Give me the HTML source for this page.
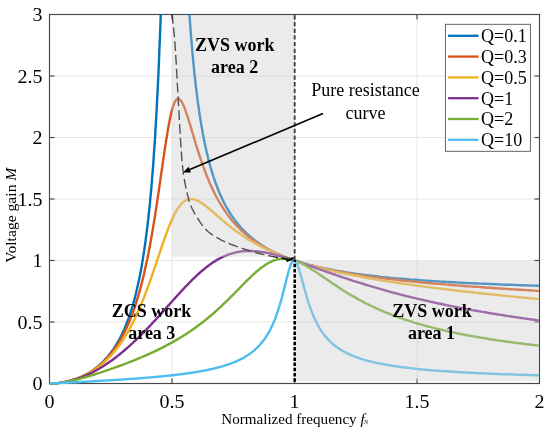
<!DOCTYPE html>
<html><head><meta charset="utf-8"><title>LLC gain curves</title>
<style>
html,body{margin:0;padding:0;background:#fff;}
body{width:550px;height:435px;overflow:hidden;}
svg{display:block;font-family:"Liberation Serif","Times New Roman",serif;fill:#000;}
.tk text{font-size:18.7px;}
.lg{font-size:18px;}
.b{font-weight:bold;font-size:18px;}
.n{font-size:18px;}
.al{font-size:15.1px;}
.cv path{fill:none;stroke-width:2.4;stroke-linejoin:round;}
</style></head><body>
<svg width="550" height="435" viewBox="0 0 550 435">
<rect x="0" y="0" width="550" height="435" fill="#fff"/>
<defs><clipPath id="cp"><rect x="49.5" y="14.5" width="490.0" height="370.3"/></clipPath></defs>
<g stroke="#e6e6e6" stroke-width="1" fill="none">
<line x1="172.0" y1="14.5" x2="172.0" y2="383.5"/>
<line x1="294.5" y1="14.5" x2="294.5" y2="383.5"/>
<line x1="417.0" y1="14.5" x2="417.0" y2="383.5"/>
<line x1="49.5" y1="322.0" x2="539.5" y2="322.0"/>
<line x1="49.5" y1="260.5" x2="539.5" y2="260.5"/>
<line x1="49.5" y1="199.0" x2="539.5" y2="199.0"/>
<line x1="49.5" y1="137.5" x2="539.5" y2="137.5"/>
<line x1="49.5" y1="76.0" x2="539.5" y2="76.0"/>
</g>
<g stroke="#484848" stroke-width="1.15" fill="none">
<rect x="49.5" y="14.5" width="490.0" height="369.0"/>
<line x1="172.0" y1="383.5" x2="172.0" y2="378.5"/>
<line x1="172.0" y1="14.5" x2="172.0" y2="19.5"/>
<line x1="294.5" y1="383.5" x2="294.5" y2="378.5"/>
<line x1="294.5" y1="14.5" x2="294.5" y2="19.5"/>
<line x1="417.0" y1="383.5" x2="417.0" y2="378.5"/>
<line x1="417.0" y1="14.5" x2="417.0" y2="19.5"/>
<line x1="49.5" y1="322.0" x2="54.5" y2="322.0"/>
<line x1="539.5" y1="322.0" x2="534.5" y2="322.0"/>
<line x1="49.5" y1="260.5" x2="54.5" y2="260.5"/>
<line x1="539.5" y1="260.5" x2="534.5" y2="260.5"/>
<line x1="49.5" y1="199.0" x2="54.5" y2="199.0"/>
<line x1="539.5" y1="199.0" x2="534.5" y2="199.0"/>
<line x1="49.5" y1="137.5" x2="54.5" y2="137.5"/>
<line x1="539.5" y1="137.5" x2="534.5" y2="137.5"/>
<line x1="49.5" y1="76.0" x2="54.5" y2="76.0"/>
<line x1="539.5" y1="76.0" x2="534.5" y2="76.0"/>
</g>
<g clip-path="url(#cp)">
<g class="cv">
<path d="M49.6,383.5 L51.3,383.5 L52.9,383.4 L54.6,383.3 L56.3,383.2 L57.9,383.1 L59.6,382.9 L61.2,382.6 L62.9,382.4 L64.6,382.1 L66.2,381.8 L67.9,381.4 L69.5,381 L71.2,380.5 L72.8,380 L74.5,379.5 L76.2,378.9 L77.8,378.3 L79.5,377.6 L81.1,376.9 L82.8,376.1 L84.5,375.3 L86.1,374.5 L87.8,373.5 L89.4,372.5 L91.1,371.5 L92.8,370.4 L94.4,369.2 L96.1,367.9 L97.7,366.6 L99.4,365.2 L101,363.7 L102.7,362.1 L104.4,360.4 L106,358.6 L107.7,356.7 L109.3,354.7 L111,352.5 L112.7,350.3 L114.3,347.8 L116,345.2 L117.6,342.4 L119.3,339.5 L121,336.3 L122.6,332.9 L124.3,329.2 L125.9,325.2 L127.6,321 L129.3,316.4 L130.9,311.4 L132.6,306 L134.2,300.2 L135.9,293.7 L137.5,286.7 L139.2,279 L140.9,270.5 L142.5,261.1 L144.2,250.5 L145.8,238.8 L147.5,225.6 L147.8,223.1 L148.1,220.7 L148.4,218.1 L148.6,215.5 L148.9,212.9 L149.2,210.2 L149.5,207.4 L149.8,204.6 L150.1,201.7 L150.3,198.7 L150.6,195.7 L150.9,192.6 L151.2,189.4 L151.5,186.2 L151.8,182.8 L152,179.4 L152.3,175.9 L152.6,172.3 L152.9,168.7 L153.2,164.9 L153.5,161 L153.7,157.1 L154,153 L154.3,148.8 L154.6,144.5 L154.9,140.1 L155.2,135.6 L155.4,130.9 L155.7,126.1 L156,121.2 L156.3,116.2 L156.6,111 L156.9,105.6 L157.1,100.1 L157.4,94.5 L157.7,88.6 L158,82.6 L158.3,76.4 L158.6,70.1 L158.9,63.5 L159.1,56.7 L159.4,49.8 L159.7,42.6 L160,35.1 L160.3,27.5 L160.6,19.6 L160.8,11.5 L161.1,3.1 L161.4,-5.6 L161.7,-14.5 L162,-23.7 L162.3,-33.2 M186.9,-26.2 L187.2,-21.1 L187.5,-16.2 L187.8,-11.3 L188.1,-6.6 L188.4,-2 L188.6,2.5 L188.9,6.8 L189.2,11.1 L189.5,15.2 L189.8,19.3 L190.1,23.2 L190.4,27 L190.6,30.8 L190.9,34.4 L191.2,38 L191.5,41.5 L191.8,44.9 L192.1,48.2 L192.3,51.4 L192.6,54.6 L192.9,57.7 L193.2,60.7 L193.5,63.6 L193.8,66.5 L194,69.4 L194.3,72.1 L194.6,74.8 L194.9,77.5 L195.2,80.1 L195.5,82.6 L195.7,85.1 L196,87.5 L196.3,89.9 L196.6,92.2 L196.9,94.5 L197.2,96.7 L197.4,98.9 L197.7,101.1 L198,103.2 L198.3,105.2 L198.6,107.3 L198.9,109.3 L199.1,111.2 L199.4,113.1 L199.7,115 L200,116.8 L200.3,118.6 L200.6,120.4 L200.9,122.2 L201.1,123.9 L201.4,125.6 L201.7,127.2 L202,128.8 L202.3,130.4 L202.6,132 L202.8,133.5 L203.1,135 L203.4,136.5 L203.7,138 L204,139.4 L204.3,140.9 L204.5,142.2 L204.8,143.6 L205.1,145 L205.4,146.3 L205.7,147.6 L206,148.9 L206.2,150.1 L206.5,151.4 L206.8,152.6 L207.1,153.8 L207.4,155 L207.7,156.2 L207.9,157.3 L208.2,158.5 L208.5,159.6 L208.8,160.7 L209.1,161.8 L209.4,162.8 L209.6,163.9 L209.9,164.9 L210.2,166 L210.5,167 L210.8,168 L211.1,168.9 L211.4,169.9 L211.6,170.9 L211.9,171.8 L212.2,172.7 L212.5,173.7 L212.8,174.6 L213.1,175.5 L213.3,176.3 L213.6,177.2 L213.9,178.1 L214.2,178.9 L214.5,179.7 L214.8,180.6 L215,181.4 L215.3,182.2 L215.6,183 L215.9,183.8 L216.2,184.5 L216.5,185.3 L216.7,186 L217,186.8 L217.3,187.5 L217.6,188.2 L217.9,189 L218.2,189.7 L218.4,190.4 L218.7,191.1 L219,191.8 L219.3,192.4 L219.6,193.1 L219.9,193.8 L220.1,194.4 L220.4,195.1 L220.7,195.7 L221,196.3 L222.1,198.6 L223.2,200.9 L224.2,203 L225.3,205.1 L226.4,207.1 L227.5,209 L228.6,210.8 L229.6,212.5 L230.7,214.2 L231.8,215.9 L232.9,217.4 L234,218.9 L235,220.4 L236.1,221.8 L237.2,223.2 L238.3,224.5 L239.4,225.8 L240.4,227 L241.5,228.2 L242.6,229.4 L243.7,230.5 L244.8,231.6 L245.8,232.7 L246.9,233.7 L248,234.7 L249.1,235.7 L250.2,236.6 L251.2,237.5 L252.3,238.4 L253.4,239.3 L254.5,240.1 L255.5,240.9 L256.6,241.7 L257.7,242.5 L258.8,243.3 L259.9,244 L260.9,244.7 L262,245.4 L263.1,246.1 L264.2,246.8 L265.3,247.4 L266.3,248.1 L267.4,248.7 L268.5,249.3 L269.6,249.9 L270.7,250.5 L271.7,251 L272.8,251.6 L273.9,252.1 L275,252.6 L276.1,253.2 L277.1,253.7 L278.2,254.2 L279.3,254.6 L280.4,255.1 L281.5,255.6 L282.5,256 L283.6,256.5 L284.7,256.9 L285,257 L285.3,257.2 L285.6,257.3 L285.9,257.4 L286.3,257.5 L286.6,257.6 L286.9,257.8 L287.2,257.9 L287.5,258 L287.8,258.1 L288.1,258.2 L288.4,258.4 L288.7,258.5 L289,258.6 L289.4,258.7 L289.7,258.8 L290,258.9 L290.3,259 L290.6,259.1 L290.9,259.3 L291.2,259.4 L291.5,259.5 L291.8,259.6 L292.1,259.7 L292.5,259.8 L292.8,259.9 L293.1,260 L293.4,260.1 L293.7,260.2 L294,260.3 L294.3,260.4 L294.6,260.5 L294.9,260.6 L295.2,260.7 L295.6,260.8 L295.9,261 L296.2,261.1 L296.5,261.2 L296.8,261.3 L297.1,261.4 L297.4,261.5 L297.7,261.5 L298,261.6 L298.3,261.7 L298.7,261.8 L299,261.9 L299.3,262 L299.6,262.1 L299.9,262.2 L300.2,262.3 L300.5,262.4 L300.8,262.5 L301.1,262.6 L301.4,262.7 L301.8,262.8 L302.1,262.9 L302.4,263 L302.7,263.1 L303,263.1 L303.3,263.2 L303.6,263.3 L303.9,263.4 L304.2,263.5 L304.5,263.6 L304.9,263.7 L305.2,263.8 L305.5,263.9 L305.8,263.9 L306.1,264 L306.4,264.1 L306.7,264.2 L307,264.3 L307.3,264.4 L307.6,264.4 L308,264.5 L308.3,264.6 L308.6,264.7 L308.9,264.8 L309.2,264.9 L311.8,265.5 L314.4,266.2 L317,266.8 L319.6,267.4 L322.1,267.9 L324.7,268.5 L327.3,269 L329.9,269.5 L332.5,270 L335.1,270.5 L337.7,271 L340.3,271.4 L342.8,271.8 L345.4,272.2 L348,272.6 L350.6,273 L353.2,273.4 L355.8,273.8 L358.4,274.1 L361,274.5 L363.5,274.8 L366.1,275.1 L368.7,275.4 L371.3,275.7 L373.9,276 L376.5,276.3 L379.1,276.6 L381.7,276.9 L384.2,277.1 L386.8,277.4 L389.4,277.7 L392,277.9 L394.6,278.1 L397.2,278.4 L399.8,278.6 L402.4,278.8 L404.9,279 L407.5,279.2 L410.1,279.5 L412.7,279.7 L415.3,279.8 L417.9,280 L420.5,280.2 L423.1,280.4 L425.6,280.6 L428.2,280.8 L430.8,280.9 L433.4,281.1 L436,281.3 L438.6,281.4 L441.2,281.6 L443.8,281.7 L446.3,281.9 L448.9,282 L451.5,282.2 L454.1,282.3 L456.7,282.5 L459.3,282.6 L461.9,282.7 L464.5,282.9 L467,283 L469.6,283.1 L472.2,283.2 L474.8,283.4 L477.4,283.5 L480,283.6 L482.6,283.7 L485.2,283.8 L487.7,283.9 L490.3,284 L492.9,284.1 L495.5,284.2 L498.1,284.4 L500.7,284.5 L503.3,284.6 L505.9,284.7 L508.4,284.7 L511,284.8 L513.6,284.9 L516.2,285 L518.8,285.1 L521.4,285.2 L524,285.3 L526.6,285.4 L529.1,285.5 L531.7,285.6 L534.3,285.6 L536.9,285.7 L539.5,285.8" stroke="#0072BD"/>
<path d="M49.6,383.5 L51.3,383.5 L52.9,383.4 L54.6,383.3 L56.3,383.2 L57.9,383.1 L59.6,382.9 L61.2,382.6 L62.9,382.4 L64.6,382.1 L66.2,381.8 L67.9,381.4 L69.5,381 L71.2,380.5 L72.8,380 L74.5,379.5 L76.2,378.9 L77.8,378.3 L79.5,377.7 L81.1,377 L82.8,376.2 L84.5,375.4 L86.1,374.5 L87.8,373.6 L89.4,372.7 L91.1,371.6 L92.8,370.6 L94.4,369.4 L96.1,368.2 L97.7,366.9 L99.4,365.5 L101,364.1 L102.7,362.6 L104.4,361 L106,359.3 L107.7,357.5 L109.3,355.6 L111,353.6 L112.7,351.5 L114.3,349.2 L116,346.8 L117.6,344.3 L119.3,341.6 L121,338.8 L122.6,335.8 L124.3,332.6 L125.9,329.2 L127.6,325.6 L129.3,321.7 L130.9,317.6 L132.6,313.3 L134.2,308.6 L135.9,303.6 L137.5,298.3 L139.2,292.7 L140.9,286.6 L142.5,280.1 L144.2,273.2 L145.8,265.8 L147.5,257.9 L147.8,256.5 L148.1,255.1 L148.4,253.7 L148.6,252.2 L148.9,250.8 L149.2,249.3 L149.5,247.8 L149.8,246.3 L150.1,244.8 L150.3,243.2 L150.6,241.7 L150.9,240.1 L151.2,238.5 L151.5,236.9 L151.8,235.3 L152,233.7 L152.3,232 L152.6,230.4 L152.9,228.7 L153.2,227 L153.5,225.3 L153.7,223.6 L154,221.8 L154.3,220.1 L154.6,218.3 L154.9,216.5 L155.2,214.7 L155.4,212.9 L155.7,211.1 L156,209.3 L156.3,207.4 L156.6,205.6 L156.9,203.7 L157.1,201.8 L157.4,199.9 L157.7,198 L158,196.1 L158.3,194.2 L158.6,192.2 L158.9,190.3 L159.1,188.3 L159.4,186.4 L159.7,184.4 L160,182.5 L160.3,180.5 L160.6,178.5 L160.8,176.5 L161.1,174.6 L161.4,172.6 L161.7,170.6 L162,168.6 L162.3,166.7 L162.5,164.7 L162.8,162.7 L163.1,160.8 L163.4,158.8 L163.7,156.9 L164,154.9 L164.2,153 L164.5,151.1 L164.8,149.2 L165.1,147.3 L165.4,145.5 L165.7,143.6 L165.9,141.8 L166.2,140 L166.5,138.2 L166.8,136.5 L167.1,134.7 L167.4,133 L167.6,131.3 L167.9,129.7 L168.2,128.1 L168.5,126.5 L168.8,124.9 L169.1,123.4 L169.4,122 L169.6,120.5 L169.9,119.1 L170.2,117.8 L170.5,116.4 L170.8,115.2 L171.1,113.9 L171.3,112.8 L171.6,111.6 L171.9,110.5 L172.2,109.5 L172.5,108.5 L172.8,107.5 L173,106.6 L173.3,105.8 L173.6,105 L173.9,104.2 L174.2,103.5 L174.5,102.9 L174.7,102.2 L175,101.7 L175.3,101.2 L175.6,100.7 L175.9,100.3 L176.2,100 L176.4,99.7 L176.7,99.4 L177,99.2 L177.3,99 L177.6,98.9 L177.9,98.9 L178.1,98.8 L178.4,98.9 L178.7,98.9 L179,99 L179.3,99.2 L179.6,99.4 L179.9,99.6 L180.1,99.8 L180.4,100.1 L180.7,100.5 L181,100.9 L181.3,101.3 L181.6,101.7 L181.8,102.2 L182.1,102.7 L182.4,103.2 L182.7,103.8 L183,104.3 L183.3,105 L183.5,105.6 L183.8,106.3 L184.1,106.9 L184.4,107.6 L184.7,108.4 L185,109.1 L185.2,109.9 L185.5,110.6 L185.8,111.4 L186.1,112.2 L186.4,113.1 L186.7,113.9 L186.9,114.8 L187.2,115.6 L187.5,116.5 L187.8,117.4 L188.1,118.3 L188.4,119.2 L188.6,120.1 L188.9,121 L189.2,121.9 L189.5,122.8 L189.8,123.8 L190.1,124.7 L190.4,125.6 L190.6,126.6 L190.9,127.5 L191.2,128.5 L191.5,129.4 L191.8,130.4 L192.1,131.3 L192.3,132.3 L192.6,133.2 L192.9,134.2 L193.2,135.1 L193.5,136.1 L193.8,137 L194,138 L194.3,138.9 L194.6,139.9 L194.9,140.8 L195.2,141.8 L195.5,142.7 L195.7,143.6 L196,144.5 L196.3,145.5 L196.6,146.4 L196.9,147.3 L197.2,148.2 L197.4,149.1 L197.7,150 L198,150.9 L198.3,151.8 L198.6,152.7 L198.9,153.6 L199.1,154.4 L199.4,155.3 L199.7,156.2 L200,157 L200.3,157.9 L200.6,158.7 L200.9,159.6 L201.1,160.4 L201.4,161.2 L201.7,162 L202,162.9 L202.3,163.7 L202.6,164.5 L202.8,165.3 L203.1,166.1 L203.4,166.9 L203.7,167.6 L204,168.4 L204.3,169.2 L204.5,169.9 L204.8,170.7 L205.1,171.5 L205.4,172.2 L205.7,172.9 L206,173.7 L206.2,174.4 L206.5,175.1 L206.8,175.8 L207.1,176.5 L207.4,177.3 L207.7,177.9 L207.9,178.6 L208.2,179.3 L208.5,180 L208.8,180.7 L209.1,181.4 L209.4,182 L209.6,182.7 L209.9,183.3 L210.2,184 L210.5,184.6 L210.8,185.3 L211.1,185.9 L211.4,186.5 L211.6,187.1 L211.9,187.7 L212.2,188.4 L212.5,189 L212.8,189.6 L213.1,190.2 L213.3,190.7 L213.6,191.3 L213.9,191.9 L214.2,192.5 L214.5,193 L214.8,193.6 L215,194.2 L215.3,194.7 L215.6,195.3 L215.9,195.8 L216.2,196.4 L216.5,196.9 L216.7,197.4 L217,198 L217.3,198.5 L217.6,199 L217.9,199.5 L218.2,200 L218.4,200.5 L218.7,201 L219,201.5 L219.3,202 L219.6,202.5 L219.9,203 L220.1,203.5 L220.4,204 L220.7,204.4 L221,204.9 L222.1,206.6 L223.2,208.3 L224.2,210 L225.3,211.6 L226.4,213.1 L227.5,214.6 L228.6,216.1 L229.6,217.5 L230.7,218.8 L231.8,220.2 L232.9,221.5 L234,222.7 L235,223.9 L236.1,225.1 L237.2,226.3 L238.3,227.4 L239.4,228.5 L240.4,229.5 L241.5,230.6 L242.6,231.6 L243.7,232.6 L244.8,233.5 L245.8,234.4 L246.9,235.4 L248,236.2 L249.1,237.1 L250.2,237.9 L251.2,238.8 L252.3,239.6 L253.4,240.3 L254.5,241.1 L255.5,241.9 L256.6,242.6 L257.7,243.3 L258.8,244 L259.9,244.7 L260.9,245.3 L262,246 L263.1,246.6 L264.2,247.2 L265.3,247.9 L266.3,248.5 L267.4,249 L268.5,249.6 L269.6,250.2 L270.7,250.7 L271.7,251.3 L272.8,251.8 L273.9,252.3 L275,252.8 L276.1,253.3 L277.1,253.8 L278.2,254.3 L279.3,254.7 L280.4,255.2 L281.5,255.6 L282.5,256.1 L283.6,256.5 L284.7,257 L285,257.1 L285.3,257.2 L285.6,257.3 L285.9,257.4 L286.3,257.6 L286.6,257.7 L286.9,257.8 L287.2,257.9 L287.5,258 L287.8,258.1 L288.1,258.3 L288.4,258.4 L288.7,258.5 L289,258.6 L289.4,258.7 L289.7,258.8 L290,258.9 L290.3,259 L290.6,259.2 L290.9,259.3 L291.2,259.4 L291.5,259.5 L291.8,259.6 L292.1,259.7 L292.5,259.8 L292.8,259.9 L293.1,260 L293.4,260.1 L293.7,260.2 L294,260.3 L294.3,260.4 L294.6,260.5 L294.9,260.6 L295.2,260.7 L295.6,260.9 L295.9,261 L296.2,261.1 L296.5,261.2 L296.8,261.3 L297.1,261.4 L297.4,261.5 L297.7,261.6 L298,261.7 L298.3,261.7 L298.7,261.8 L299,261.9 L299.3,262 L299.6,262.1 L299.9,262.2 L300.2,262.3 L300.5,262.4 L300.8,262.5 L301.1,262.6 L301.4,262.7 L301.8,262.8 L302.1,262.9 L302.4,263 L302.7,263.1 L303,263.2 L303.3,263.3 L303.6,263.4 L303.9,263.4 L304.2,263.5 L304.5,263.6 L304.9,263.7 L305.2,263.8 L305.5,263.9 L305.8,264 L306.1,264.1 L306.4,264.1 L306.7,264.2 L307,264.3 L307.3,264.4 L307.6,264.5 L308,264.6 L308.3,264.7 L308.6,264.7 L308.9,264.8 L309.2,264.9 L311.8,265.6 L314.4,266.3 L317,266.9 L319.6,267.5 L322.1,268.1 L324.7,268.7 L327.3,269.3 L329.9,269.8 L332.5,270.3 L335.1,270.9 L337.7,271.4 L340.3,271.8 L342.8,272.3 L345.4,272.8 L348,273.2 L350.6,273.6 L353.2,274.1 L355.8,274.5 L358.4,274.9 L361,275.3 L363.5,275.6 L366.1,276 L368.7,276.4 L371.3,276.7 L373.9,277.1 L376.5,277.4 L379.1,277.8 L381.7,278.1 L384.2,278.4 L386.8,278.7 L389.4,279 L392,279.3 L394.6,279.6 L397.2,279.9 L399.8,280.2 L402.4,280.5 L404.9,280.7 L407.5,281 L410.1,281.3 L412.7,281.5 L415.3,281.8 L417.9,282 L420.5,282.3 L423.1,282.5 L425.6,282.8 L428.2,283 L430.8,283.2 L433.4,283.5 L436,283.7 L438.6,283.9 L441.2,284.1 L443.8,284.3 L446.3,284.6 L448.9,284.8 L451.5,285 L454.1,285.2 L456.7,285.4 L459.3,285.6 L461.9,285.8 L464.5,286 L467,286.2 L469.6,286.4 L472.2,286.6 L474.8,286.7 L477.4,286.9 L480,287.1 L482.6,287.3 L485.2,287.5 L487.7,287.7 L490.3,287.8 L492.9,288 L495.5,288.2 L498.1,288.4 L500.7,288.5 L503.3,288.7 L505.9,288.9 L508.4,289 L511,289.2 L513.6,289.4 L516.2,289.5 L518.8,289.7 L521.4,289.8 L524,290 L526.6,290.1 L529.1,290.3 L531.7,290.5 L534.3,290.6 L536.9,290.8 L539.5,290.9" stroke="#D95319"/>
<path d="M49.6,383.5 L51.3,383.5 L52.9,383.4 L54.6,383.3 L56.3,383.2 L57.9,383.1 L59.6,382.9 L61.2,382.6 L62.9,382.4 L64.6,382.1 L66.2,381.8 L67.9,381.4 L69.5,381 L71.2,380.5 L72.8,380.1 L74.5,379.5 L76.2,379 L77.8,378.4 L79.5,377.7 L81.1,377 L82.8,376.3 L84.5,375.5 L86.1,374.7 L87.8,373.8 L89.4,372.9 L91.1,371.9 L92.8,370.9 L94.4,369.8 L96.1,368.7 L97.7,367.5 L99.4,366.2 L101,364.9 L102.7,363.5 L104.4,362 L106,360.5 L107.7,358.8 L109.3,357.2 L111,355.4 L112.7,353.5 L114.3,351.6 L116,349.5 L117.6,347.4 L119.3,345.2 L121,342.8 L122.6,340.4 L124.3,337.8 L125.9,335.1 L127.6,332.3 L129.3,329.4 L130.9,326.4 L132.6,323.2 L134.2,319.8 L135.9,316.4 L137.5,312.8 L139.2,309 L140.9,305.1 L142.5,301.1 L144.2,296.9 L145.8,292.6 L147.5,288.2 L147.8,287.4 L148.1,286.6 L148.4,285.8 L148.6,285.1 L148.9,284.3 L149.2,283.5 L149.5,282.7 L149.8,281.9 L150.1,281.1 L150.3,280.3 L150.6,279.5 L150.9,278.7 L151.2,277.9 L151.5,277.1 L151.8,276.2 L152,275.4 L152.3,274.6 L152.6,273.8 L152.9,273 L153.2,272.1 L153.5,271.3 L153.7,270.5 L154,269.6 L154.3,268.8 L154.6,268 L154.9,267.1 L155.2,266.3 L155.4,265.4 L155.7,264.6 L156,263.8 L156.3,262.9 L156.6,262.1 L156.9,261.2 L157.1,260.4 L157.4,259.5 L157.7,258.7 L158,257.8 L158.3,257 L158.6,256.1 L158.9,255.3 L159.1,254.4 L159.4,253.6 L159.7,252.7 L160,251.9 L160.3,251.1 L160.6,250.2 L160.8,249.4 L161.1,248.5 L161.4,247.7 L161.7,246.9 L162,246 L162.3,245.2 L162.5,244.4 L162.8,243.6 L163.1,242.7 L163.4,241.9 L163.7,241.1 L164,240.3 L164.2,239.5 L164.5,238.7 L164.8,237.9 L165.1,237.1 L165.4,236.3 L165.7,235.5 L165.9,234.7 L166.2,233.9 L166.5,233.2 L166.8,232.4 L167.1,231.6 L167.4,230.9 L167.6,230.1 L167.9,229.4 L168.2,228.6 L168.5,227.9 L168.8,227.2 L169.1,226.5 L169.4,225.8 L169.6,225.1 L169.9,224.4 L170.2,223.7 L170.5,223 L170.8,222.3 L171.1,221.7 L171.3,221 L171.6,220.4 L171.9,219.7 L172.2,219.1 L172.5,218.5 L172.8,217.8 L173,217.2 L173.3,216.6 L173.6,216.1 L173.9,215.5 L174.2,214.9 L174.5,214.3 L174.7,213.8 L175,213.3 L175.3,212.7 L175.6,212.2 L175.9,211.7 L176.2,211.2 L176.4,210.7 L176.7,210.2 L177,209.8 L177.3,209.3 L177.6,208.9 L177.9,208.4 L178.1,208 L178.4,207.6 L178.7,207.2 L179,206.8 L179.3,206.4 L179.6,206 L179.9,205.6 L180.1,205.3 L180.4,204.9 L180.7,204.6 L181,204.3 L181.3,204 L181.6,203.7 L181.8,203.4 L182.1,203.1 L182.4,202.8 L182.7,202.5 L183,202.3 L183.3,202 L183.5,201.8 L183.8,201.6 L184.1,201.4 L184.4,201.2 L184.7,201 L185,200.8 L185.2,200.6 L185.5,200.5 L185.8,200.3 L186.1,200.2 L186.4,200 L186.7,199.9 L186.9,199.8 L187.2,199.7 L187.5,199.6 L187.8,199.5 L188.1,199.4 L188.4,199.3 L188.6,199.2 L188.9,199.2 L189.2,199.1 L189.5,199.1 L189.8,199.1 L190.1,199 L190.4,199 L190.6,199 L190.9,199 L191.2,199 L191.5,199 L191.8,199 L192.1,199.1 L192.3,199.1 L192.6,199.1 L192.9,199.2 L193.2,199.2 L193.5,199.3 L193.8,199.3 L194,199.4 L194.3,199.5 L194.6,199.6 L194.9,199.6 L195.2,199.7 L195.5,199.8 L195.7,199.9 L196,200 L196.3,200.2 L196.6,200.3 L196.9,200.4 L197.2,200.5 L197.4,200.6 L197.7,200.8 L198,200.9 L198.3,201.1 L198.6,201.2 L198.9,201.4 L199.1,201.5 L199.4,201.7 L199.7,201.8 L200,202 L200.3,202.2 L200.6,202.4 L200.9,202.5 L201.1,202.7 L201.4,202.9 L201.7,203.1 L202,203.3 L202.3,203.5 L202.6,203.7 L202.8,203.9 L203.1,204.1 L203.4,204.3 L203.7,204.5 L204,204.7 L204.3,204.9 L204.5,205.1 L204.8,205.3 L205.1,205.5 L205.4,205.7 L205.7,206 L206,206.2 L206.2,206.4 L206.5,206.6 L206.8,206.9 L207.1,207.1 L207.4,207.3 L207.7,207.5 L207.9,207.8 L208.2,208 L208.5,208.2 L208.8,208.5 L209.1,208.7 L209.4,209 L209.6,209.2 L209.9,209.4 L210.2,209.7 L210.5,209.9 L210.8,210.2 L211.1,210.4 L211.4,210.6 L211.6,210.9 L211.9,211.1 L212.2,211.4 L212.5,211.6 L212.8,211.9 L213.1,212.1 L213.3,212.4 L213.6,212.6 L213.9,212.8 L214.2,213.1 L214.5,213.3 L214.8,213.6 L215,213.8 L215.3,214.1 L215.6,214.3 L215.9,214.6 L216.2,214.8 L216.5,215.1 L216.7,215.3 L217,215.6 L217.3,215.8 L217.6,216.1 L217.9,216.3 L218.2,216.6 L218.4,216.8 L218.7,217.1 L219,217.3 L219.3,217.5 L219.6,217.8 L219.9,218 L220.1,218.3 L220.4,218.5 L220.7,218.8 L221,219 L222.1,219.9 L223.2,220.9 L224.2,221.8 L225.3,222.7 L226.4,223.6 L227.5,224.4 L228.6,225.3 L229.6,226.2 L230.7,227 L231.8,227.9 L232.9,228.7 L234,229.5 L235,230.3 L236.1,231.1 L237.2,231.9 L238.3,232.7 L239.4,233.5 L240.4,234.2 L241.5,235 L242.6,235.7 L243.7,236.4 L244.8,237.1 L245.8,237.8 L246.9,238.5 L248,239.2 L249.1,239.9 L250.2,240.5 L251.2,241.2 L252.3,241.8 L253.4,242.4 L254.5,243 L255.5,243.6 L256.6,244.2 L257.7,244.8 L258.8,245.4 L259.9,246 L260.9,246.5 L262,247.1 L263.1,247.6 L264.2,248.2 L265.3,248.7 L266.3,249.2 L267.4,249.7 L268.5,250.2 L269.6,250.7 L270.7,251.2 L271.7,251.7 L272.8,252.2 L273.9,252.7 L275,253.1 L276.1,253.6 L277.1,254 L278.2,254.5 L279.3,254.9 L280.4,255.4 L281.5,255.8 L282.5,256.2 L283.6,256.6 L284.7,257 L285,257.1 L285.3,257.3 L285.6,257.4 L285.9,257.5 L286.3,257.6 L286.6,257.7 L286.9,257.8 L287.2,257.9 L287.5,258.1 L287.8,258.2 L288.1,258.3 L288.4,258.4 L288.7,258.5 L289,258.6 L289.4,258.7 L289.7,258.8 L290,258.9 L290.3,259.1 L290.6,259.2 L290.9,259.3 L291.2,259.4 L291.5,259.5 L291.8,259.6 L292.1,259.7 L292.5,259.8 L292.8,259.9 L293.1,260 L293.4,260.1 L293.7,260.2 L294,260.3 L294.3,260.4 L294.6,260.5 L294.9,260.6 L295.2,260.7 L295.6,260.9 L295.9,261 L296.2,261.1 L296.5,261.2 L296.8,261.3 L297.1,261.4 L297.4,261.5 L297.7,261.6 L298,261.7 L298.3,261.8 L298.7,261.9 L299,262 L299.3,262.1 L299.6,262.2 L299.9,262.3 L300.2,262.3 L300.5,262.4 L300.8,262.5 L301.1,262.6 L301.4,262.7 L301.8,262.8 L302.1,262.9 L302.4,263 L302.7,263.1 L303,263.2 L303.3,263.3 L303.6,263.4 L303.9,263.5 L304.2,263.6 L304.5,263.7 L304.9,263.8 L305.2,263.9 L305.5,264 L305.8,264 L306.1,264.1 L306.4,264.2 L306.7,264.3 L307,264.4 L307.3,264.5 L307.6,264.6 L308,264.7 L308.3,264.8 L308.6,264.9 L308.9,264.9 L309.2,265 L311.8,265.8 L314.4,266.5 L317,267.2 L319.6,267.8 L322.1,268.5 L324.7,269.1 L327.3,269.8 L329.9,270.4 L332.5,271 L335.1,271.6 L337.7,272.1 L340.3,272.7 L342.8,273.2 L345.4,273.8 L348,274.3 L350.6,274.8 L353.2,275.3 L355.8,275.8 L358.4,276.3 L361,276.8 L363.5,277.3 L366.1,277.7 L368.7,278.2 L371.3,278.6 L373.9,279.1 L376.5,279.5 L379.1,280 L381.7,280.4 L384.2,280.8 L386.8,281.2 L389.4,281.6 L392,282 L394.6,282.4 L397.2,282.8 L399.8,283.2 L402.4,283.5 L404.9,283.9 L407.5,284.3 L410.1,284.6 L412.7,285 L415.3,285.4 L417.9,285.7 L420.5,286.1 L423.1,286.4 L425.6,286.7 L428.2,287.1 L430.8,287.4 L433.4,287.7 L436,288.1 L438.6,288.4 L441.2,288.7 L443.8,289 L446.3,289.3 L448.9,289.6 L451.5,290 L454.1,290.3 L456.7,290.6 L459.3,290.9 L461.9,291.2 L464.5,291.5 L467,291.7 L469.6,292 L472.2,292.3 L474.8,292.6 L477.4,292.9 L480,293.2 L482.6,293.5 L485.2,293.7 L487.7,294 L490.3,294.3 L492.9,294.5 L495.5,294.8 L498.1,295.1 L500.7,295.3 L503.3,295.6 L505.9,295.9 L508.4,296.1 L511,296.4 L513.6,296.6 L516.2,296.9 L518.8,297.2 L521.4,297.4 L524,297.7 L526.6,297.9 L529.1,298.2 L531.7,298.4 L534.3,298.6 L536.9,298.9 L539.5,299.1" stroke="#EDB120"/>
<path d="M49.6,383.5 L51.3,383.5 L52.9,383.4 L54.6,383.3 L56.3,383.2 L57.9,383.1 L59.6,382.9 L61.2,382.7 L62.9,382.4 L64.6,382.1 L66.2,381.8 L67.9,381.4 L69.5,381 L71.2,380.6 L72.8,380.2 L74.5,379.7 L76.2,379.2 L77.8,378.6 L79.5,378 L81.1,377.4 L82.8,376.7 L84.5,376.1 L86.1,375.3 L87.8,374.6 L89.4,373.8 L91.1,373 L92.8,372.2 L94.4,371.3 L96.1,370.4 L97.7,369.5 L99.4,368.5 L101,367.5 L102.7,366.5 L104.4,365.4 L106,364.3 L107.7,363.2 L109.3,362.1 L111,360.9 L112.7,359.7 L114.3,358.5 L116,357.2 L117.6,355.9 L119.3,354.6 L121,353.2 L122.6,351.9 L124.3,350.5 L125.9,349 L127.6,347.6 L129.3,346.1 L130.9,344.6 L132.6,343.1 L134.2,341.5 L135.9,340 L137.5,338.4 L139.2,336.8 L140.9,335.1 L142.5,333.4 L144.2,331.8 L145.8,330.1 L147.5,328.3 L147.8,328 L148.1,327.7 L148.4,327.5 L148.6,327.2 L148.9,326.9 L149.2,326.6 L149.5,326.3 L149.8,326 L150.1,325.7 L150.3,325.4 L150.6,325.1 L150.9,324.8 L151.2,324.5 L151.5,324.1 L151.8,323.8 L152,323.5 L152.3,323.2 L152.6,322.9 L152.9,322.6 L153.2,322.3 L153.5,322 L153.7,321.7 L154,321.4 L154.3,321.1 L154.6,320.8 L154.9,320.5 L155.2,320.2 L155.4,319.9 L155.7,319.6 L156,319.3 L156.3,318.9 L156.6,318.6 L156.9,318.3 L157.1,318 L157.4,317.7 L157.7,317.4 L158,317.1 L158.3,316.8 L158.6,316.5 L158.9,316.1 L159.1,315.8 L159.4,315.5 L159.7,315.2 L160,314.9 L160.3,314.6 L160.6,314.3 L160.8,313.9 L161.1,313.6 L161.4,313.3 L161.7,313 L162,312.7 L162.3,312.4 L162.5,312.1 L162.8,311.7 L163.1,311.4 L163.4,311.1 L163.7,310.8 L164,310.5 L164.2,310.2 L164.5,309.8 L164.8,309.5 L165.1,309.2 L165.4,308.9 L165.7,308.6 L165.9,308.3 L166.2,307.9 L166.5,307.6 L166.8,307.3 L167.1,307 L167.4,306.7 L167.6,306.4 L167.9,306 L168.2,305.7 L168.5,305.4 L168.8,305.1 L169.1,304.8 L169.4,304.5 L169.6,304.1 L169.9,303.8 L170.2,303.5 L170.5,303.2 L170.8,302.9 L171.1,302.6 L171.3,302.2 L171.6,301.9 L171.9,301.6 L172.2,301.3 L172.5,301 L172.8,300.7 L173,300.3 L173.3,300 L173.6,299.7 L173.9,299.4 L174.2,299.1 L174.5,298.8 L174.7,298.4 L175,298.1 L175.3,297.8 L175.6,297.5 L175.9,297.2 L176.2,296.9 L176.4,296.6 L176.7,296.2 L177,295.9 L177.3,295.6 L177.6,295.3 L177.9,295 L178.1,294.7 L178.4,294.4 L178.7,294.1 L179,293.8 L179.3,293.4 L179.6,293.1 L179.9,292.8 L180.1,292.5 L180.4,292.2 L180.7,291.9 L181,291.6 L181.3,291.3 L181.6,291 L181.8,290.7 L182.1,290.4 L182.4,290.1 L182.7,289.8 L183,289.4 L183.3,289.1 L183.5,288.8 L183.8,288.5 L184.1,288.2 L184.4,287.9 L184.7,287.6 L185,287.3 L185.2,287 L185.5,286.7 L185.8,286.4 L186.1,286.1 L186.4,285.8 L186.7,285.5 L186.9,285.3 L187.2,285 L187.5,284.7 L187.8,284.4 L188.1,284.1 L188.4,283.8 L188.6,283.5 L188.9,283.2 L189.2,282.9 L189.5,282.6 L189.8,282.3 L190.1,282 L190.4,281.8 L190.6,281.5 L190.9,281.2 L191.2,280.9 L191.5,280.6 L191.8,280.3 L192.1,280.1 L192.3,279.8 L192.6,279.5 L192.9,279.2 L193.2,278.9 L193.5,278.7 L193.8,278.4 L194,278.1 L194.3,277.8 L194.6,277.6 L194.9,277.3 L195.2,277 L195.5,276.8 L195.7,276.5 L196,276.2 L196.3,276 L196.6,275.7 L196.9,275.4 L197.2,275.2 L197.4,274.9 L197.7,274.6 L198,274.4 L198.3,274.1 L198.6,273.9 L198.9,273.6 L199.1,273.3 L199.4,273.1 L199.7,272.8 L200,272.6 L200.3,272.3 L200.6,272.1 L200.9,271.8 L201.1,271.6 L201.4,271.3 L201.7,271.1 L202,270.9 L202.3,270.6 L202.6,270.4 L202.8,270.1 L203.1,269.9 L203.4,269.7 L203.7,269.4 L204,269.2 L204.3,269 L204.5,268.7 L204.8,268.5 L205.1,268.3 L205.4,268 L205.7,267.8 L206,267.6 L206.2,267.4 L206.5,267.1 L206.8,266.9 L207.1,266.7 L207.4,266.5 L207.7,266.3 L207.9,266.1 L208.2,265.8 L208.5,265.6 L208.8,265.4 L209.1,265.2 L209.4,265 L209.6,264.8 L209.9,264.6 L210.2,264.4 L210.5,264.2 L210.8,264 L211.1,263.8 L211.4,263.6 L211.6,263.4 L211.9,263.2 L212.2,263 L212.5,262.8 L212.8,262.6 L213.1,262.4 L213.3,262.2 L213.6,262.1 L213.9,261.9 L214.2,261.7 L214.5,261.5 L214.8,261.3 L215,261.2 L215.3,261 L215.6,260.8 L215.9,260.6 L216.2,260.5 L216.5,260.3 L216.7,260.1 L217,260 L217.3,259.8 L217.6,259.6 L217.9,259.5 L218.2,259.3 L218.4,259.1 L218.7,259 L219,258.8 L219.3,258.7 L219.6,258.5 L219.9,258.4 L220.1,258.2 L220.4,258.1 L220.7,257.9 L221,257.8 L222.1,257.3 L223.2,256.7 L224.2,256.2 L225.3,255.8 L226.4,255.3 L227.5,254.9 L228.6,254.5 L229.6,254.1 L230.7,253.8 L231.8,253.5 L232.9,253.1 L234,252.9 L235,252.6 L236.1,252.3 L237.2,252.1 L238.3,251.9 L239.4,251.7 L240.4,251.6 L241.5,251.4 L242.6,251.3 L243.7,251.2 L244.8,251.1 L245.8,251.1 L246.9,251 L248,251 L249.1,251 L250.2,251 L251.2,251 L252.3,251 L253.4,251.1 L254.5,251.1 L255.5,251.2 L256.6,251.3 L257.7,251.4 L258.8,251.5 L259.9,251.6 L260.9,251.8 L262,251.9 L263.1,252.1 L264.2,252.3 L265.3,252.5 L266.3,252.7 L267.4,252.9 L268.5,253.1 L269.6,253.3 L270.7,253.6 L271.7,253.8 L272.8,254.1 L273.9,254.3 L275,254.6 L276.1,254.9 L277.1,255.2 L278.2,255.5 L279.3,255.8 L280.4,256.1 L281.5,256.4 L282.5,256.7 L283.6,257 L284.7,257.4 L285,257.4 L285.3,257.5 L285.6,257.6 L285.9,257.7 L286.3,257.8 L286.6,257.9 L286.9,258 L287.2,258.1 L287.5,258.2 L287.8,258.3 L288.1,258.4 L288.4,258.5 L288.7,258.6 L289,258.7 L289.4,258.8 L289.7,258.9 L290,259 L290.3,259.1 L290.6,259.2 L290.9,259.3 L291.2,259.4 L291.5,259.5 L291.8,259.6 L292.1,259.7 L292.5,259.8 L292.8,259.9 L293.1,260 L293.4,260.1 L293.7,260.2 L294,260.3 L294.3,260.4 L294.6,260.5 L294.9,260.6 L295.2,260.7 L295.6,260.9 L295.9,261 L296.2,261.1 L296.5,261.2 L296.8,261.3 L297.1,261.4 L297.4,261.5 L297.7,261.6 L298,261.7 L298.3,261.8 L298.7,261.9 L299,262 L299.3,262.1 L299.6,262.2 L299.9,262.3 L300.2,262.4 L300.5,262.5 L300.8,262.7 L301.1,262.8 L301.4,262.9 L301.8,263 L302.1,263.1 L302.4,263.2 L302.7,263.3 L303,263.4 L303.3,263.5 L303.6,263.6 L303.9,263.7 L304.2,263.8 L304.5,264 L304.9,264.1 L305.2,264.2 L305.5,264.3 L305.8,264.4 L306.1,264.5 L306.4,264.6 L306.7,264.7 L307,264.8 L307.3,264.9 L307.6,265 L308,265.2 L308.3,265.3 L308.6,265.4 L308.9,265.5 L309.2,265.6 L311.8,266.5 L314.4,267.4 L317,268.4 L319.6,269.3 L322.1,270.2 L324.7,271.1 L327.3,272 L329.9,272.9 L332.5,273.8 L335.1,274.7 L337.7,275.6 L340.3,276.5 L342.8,277.4 L345.4,278.2 L348,279.1 L350.6,279.9 L353.2,280.8 L355.8,281.6 L358.4,282.4 L361,283.2 L363.5,284 L366.1,284.8 L368.7,285.6 L371.3,286.4 L373.9,287.2 L376.5,287.9 L379.1,288.7 L381.7,289.4 L384.2,290.1 L386.8,290.9 L389.4,291.6 L392,292.3 L394.6,293 L397.2,293.7 L399.8,294.3 L402.4,295 L404.9,295.7 L407.5,296.3 L410.1,296.9 L412.7,297.6 L415.3,298.2 L417.9,298.8 L420.5,299.4 L423.1,300 L425.6,300.6 L428.2,301.2 L430.8,301.8 L433.4,302.3 L436,302.9 L438.6,303.5 L441.2,304 L443.8,304.5 L446.3,305.1 L448.9,305.6 L451.5,306.1 L454.1,306.6 L456.7,307.1 L459.3,307.6 L461.9,308.1 L464.5,308.6 L467,309.1 L469.6,309.6 L472.2,310.1 L474.8,310.5 L477.4,311 L480,311.4 L482.6,311.9 L485.2,312.3 L487.7,312.8 L490.3,313.2 L492.9,313.6 L495.5,314 L498.1,314.5 L500.7,314.9 L503.3,315.3 L505.9,315.7 L508.4,316.1 L511,316.5 L513.6,316.9 L516.2,317.2 L518.8,317.6 L521.4,318 L524,318.4 L526.6,318.7 L529.1,319.1 L531.7,319.5 L534.3,319.8 L536.9,320.2 L539.5,320.5" stroke="#7E2F8E"/>
<path d="M49.6,383.5 L51.3,383.5 L52.9,383.4 L54.6,383.3 L56.3,383.2 L57.9,383.1 L59.6,382.9 L61.2,382.7 L62.9,382.4 L64.6,382.2 L66.2,381.9 L67.9,381.6 L69.5,381.2 L71.2,380.9 L72.8,380.5 L74.5,380.1 L76.2,379.7 L77.8,379.3 L79.5,378.8 L81.1,378.4 L82.8,377.9 L84.5,377.5 L86.1,377 L87.8,376.5 L89.4,376 L91.1,375.5 L92.8,375 L94.4,374.5 L96.1,373.9 L97.7,373.4 L99.4,372.9 L101,372.3 L102.7,371.8 L104.4,371.2 L106,370.7 L107.7,370.1 L109.3,369.5 L111,368.9 L112.7,368.4 L114.3,367.8 L116,367.2 L117.6,366.6 L119.3,366 L121,365.4 L122.6,364.8 L124.3,364.1 L125.9,363.5 L127.6,362.9 L129.3,362.2 L130.9,361.6 L132.6,360.9 L134.2,360.3 L135.9,359.6 L137.5,358.9 L139.2,358.2 L140.9,357.5 L142.5,356.8 L144.2,356.1 L145.8,355.4 L147.5,354.7 L147.8,354.5 L148.1,354.4 L148.4,354.3 L148.6,354.2 L148.9,354 L149.2,353.9 L149.5,353.8 L149.8,353.7 L150.1,353.5 L150.3,353.4 L150.6,353.3 L150.9,353.1 L151.2,353 L151.5,352.9 L151.8,352.7 L152,352.6 L152.3,352.5 L152.6,352.4 L152.9,352.2 L153.2,352.1 L153.5,352 L153.7,351.8 L154,351.7 L154.3,351.6 L154.6,351.4 L154.9,351.3 L155.2,351.2 L155.4,351 L155.7,350.9 L156,350.7 L156.3,350.6 L156.6,350.5 L156.9,350.3 L157.1,350.2 L157.4,350.1 L157.7,349.9 L158,349.8 L158.3,349.7 L158.6,349.5 L158.9,349.4 L159.1,349.2 L159.4,349.1 L159.7,349 L160,348.8 L160.3,348.7 L160.6,348.5 L160.8,348.4 L161.1,348.2 L161.4,348.1 L161.7,348 L162,347.8 L162.3,347.7 L162.5,347.5 L162.8,347.4 L163.1,347.2 L163.4,347.1 L163.7,347 L164,346.8 L164.2,346.7 L164.5,346.5 L164.8,346.4 L165.1,346.2 L165.4,346.1 L165.7,345.9 L165.9,345.8 L166.2,345.6 L166.5,345.5 L166.8,345.3 L167.1,345.2 L167.4,345 L167.6,344.9 L167.9,344.7 L168.2,344.6 L168.5,344.4 L168.8,344.3 L169.1,344.1 L169.4,344 L169.6,343.8 L169.9,343.6 L170.2,343.5 L170.5,343.3 L170.8,343.2 L171.1,343 L171.3,342.9 L171.6,342.7 L171.9,342.6 L172.2,342.4 L172.5,342.2 L172.8,342.1 L173,341.9 L173.3,341.8 L173.6,341.6 L173.9,341.4 L174.2,341.3 L174.5,341.1 L174.7,340.9 L175,340.8 L175.3,340.6 L175.6,340.5 L175.9,340.3 L176.2,340.1 L176.4,340 L176.7,339.8 L177,339.6 L177.3,339.5 L177.6,339.3 L177.9,339.1 L178.1,339 L178.4,338.8 L178.7,338.6 L179,338.4 L179.3,338.3 L179.6,338.1 L179.9,337.9 L180.1,337.8 L180.4,337.6 L180.7,337.4 L181,337.2 L181.3,337.1 L181.6,336.9 L181.8,336.7 L182.1,336.5 L182.4,336.4 L182.7,336.2 L183,336 L183.3,335.8 L183.5,335.7 L183.8,335.5 L184.1,335.3 L184.4,335.1 L184.7,334.9 L185,334.8 L185.2,334.6 L185.5,334.4 L185.8,334.2 L186.1,334 L186.4,333.8 L186.7,333.7 L186.9,333.5 L187.2,333.3 L187.5,333.1 L187.8,332.9 L188.1,332.7 L188.4,332.5 L188.6,332.3 L188.9,332.2 L189.2,332 L189.5,331.8 L189.8,331.6 L190.1,331.4 L190.4,331.2 L190.6,331 L190.9,330.8 L191.2,330.6 L191.5,330.4 L191.8,330.2 L192.1,330 L192.3,329.8 L192.6,329.6 L192.9,329.4 L193.2,329.2 L193.5,329 L193.8,328.8 L194,328.6 L194.3,328.4 L194.6,328.2 L194.9,328 L195.2,327.8 L195.5,327.6 L195.7,327.4 L196,327.2 L196.3,327 L196.6,326.8 L196.9,326.6 L197.2,326.4 L197.4,326.2 L197.7,326 L198,325.8 L198.3,325.5 L198.6,325.3 L198.9,325.1 L199.1,324.9 L199.4,324.7 L199.7,324.5 L200,324.3 L200.3,324.1 L200.6,323.8 L200.9,323.6 L201.1,323.4 L201.4,323.2 L201.7,323 L202,322.7 L202.3,322.5 L202.6,322.3 L202.8,322.1 L203.1,321.9 L203.4,321.6 L203.7,321.4 L204,321.2 L204.3,321 L204.5,320.7 L204.8,320.5 L205.1,320.3 L205.4,320.1 L205.7,319.8 L206,319.6 L206.2,319.4 L206.5,319.1 L206.8,318.9 L207.1,318.7 L207.4,318.4 L207.7,318.2 L207.9,318 L208.2,317.7 L208.5,317.5 L208.8,317.3 L209.1,317 L209.4,316.8 L209.6,316.6 L209.9,316.3 L210.2,316.1 L210.5,315.8 L210.8,315.6 L211.1,315.4 L211.4,315.1 L211.6,314.9 L211.9,314.6 L212.2,314.4 L212.5,314.1 L212.8,313.9 L213.1,313.7 L213.3,313.4 L213.6,313.2 L213.9,312.9 L214.2,312.7 L214.5,312.4 L214.8,312.2 L215,311.9 L215.3,311.7 L215.6,311.4 L215.9,311.1 L216.2,310.9 L216.5,310.6 L216.7,310.4 L217,310.1 L217.3,309.9 L217.6,309.6 L217.9,309.4 L218.2,309.1 L218.4,308.8 L218.7,308.6 L219,308.3 L219.3,308.1 L219.6,307.8 L219.9,307.5 L220.1,307.3 L220.4,307 L220.7,306.7 L221,306.5 L222.1,305.5 L223.2,304.4 L224.2,303.4 L225.3,302.4 L226.4,301.3 L227.5,300.3 L228.6,299.2 L229.6,298.1 L230.7,297 L231.8,296 L232.9,294.9 L234,293.8 L235,292.7 L236.1,291.6 L237.2,290.5 L238.3,289.4 L239.4,288.3 L240.4,287.2 L241.5,286.1 L242.6,285 L243.7,283.9 L244.8,282.8 L245.8,281.7 L246.9,280.6 L248,279.6 L249.1,278.5 L250.2,277.5 L251.2,276.5 L252.3,275.4 L253.4,274.4 L254.5,273.5 L255.5,272.5 L256.6,271.5 L257.7,270.6 L258.8,269.7 L259.9,268.9 L260.9,268 L262,267.2 L263.1,266.4 L264.2,265.7 L265.3,264.9 L266.3,264.2 L267.4,263.6 L268.5,263 L269.6,262.4 L270.7,261.9 L271.7,261.4 L272.8,260.9 L273.9,260.5 L275,260.1 L276.1,259.8 L277.1,259.5 L278.2,259.2 L279.3,259 L280.4,258.9 L281.5,258.8 L282.5,258.7 L283.6,258.7 L284.7,258.7 L285,258.7 L285.3,258.7 L285.6,258.7 L285.9,258.7 L286.3,258.7 L286.6,258.8 L286.9,258.8 L287.2,258.8 L287.5,258.9 L287.8,258.9 L288.1,259 L288.4,259 L288.7,259 L289,259.1 L289.4,259.2 L289.7,259.2 L290,259.3 L290.3,259.3 L290.6,259.4 L290.9,259.5 L291.2,259.6 L291.5,259.6 L291.8,259.7 L292.1,259.8 L292.5,259.9 L292.8,260 L293.1,260.1 L293.4,260.1 L293.7,260.2 L294,260.3 L294.3,260.4 L294.6,260.5 L294.9,260.6 L295.2,260.8 L295.6,260.9 L295.9,261 L296.2,261.1 L296.5,261.2 L296.8,261.3 L297.1,261.5 L297.4,261.6 L297.7,261.7 L298,261.8 L298.3,262 L298.7,262.1 L299,262.2 L299.3,262.4 L299.6,262.5 L299.9,262.7 L300.2,262.8 L300.5,263 L300.8,263.1 L301.1,263.3 L301.4,263.4 L301.8,263.6 L302.1,263.7 L302.4,263.9 L302.7,264 L303,264.2 L303.3,264.4 L303.6,264.5 L303.9,264.7 L304.2,264.9 L304.5,265 L304.9,265.2 L305.2,265.4 L305.5,265.6 L305.8,265.7 L306.1,265.9 L306.4,266.1 L306.7,266.3 L307,266.4 L307.3,266.6 L307.6,266.8 L308,267 L308.3,267.2 L308.6,267.4 L308.9,267.6 L309.2,267.7 L311.8,269.4 L314.4,271 L317,272.8 L319.6,274.5 L322.1,276.3 L324.7,278.1 L327.3,279.8 L329.9,281.6 L332.5,283.4 L335.1,285.1 L337.7,286.8 L340.3,288.5 L342.8,290.2 L345.4,291.8 L348,293.4 L350.6,294.9 L353.2,296.4 L355.8,297.9 L358.4,299.4 L361,300.8 L363.5,302.1 L366.1,303.5 L368.7,304.7 L371.3,306 L373.9,307.2 L376.5,308.4 L379.1,309.6 L381.7,310.7 L384.2,311.8 L386.8,312.9 L389.4,313.9 L392,314.9 L394.6,315.9 L397.2,316.8 L399.8,317.8 L402.4,318.7 L404.9,319.6 L407.5,320.4 L410.1,321.2 L412.7,322.1 L415.3,322.8 L417.9,323.6 L420.5,324.4 L423.1,325.1 L425.6,325.8 L428.2,326.5 L430.8,327.2 L433.4,327.8 L436,328.5 L438.6,329.1 L441.2,329.7 L443.8,330.3 L446.3,330.9 L448.9,331.5 L451.5,332.1 L454.1,332.6 L456.7,333.2 L459.3,333.7 L461.9,334.2 L464.5,334.7 L467,335.2 L469.6,335.7 L472.2,336.1 L474.8,336.6 L477.4,337 L480,337.5 L482.6,337.9 L485.2,338.3 L487.7,338.8 L490.3,339.2 L492.9,339.6 L495.5,340 L498.1,340.4 L500.7,340.7 L503.3,341.1 L505.9,341.5 L508.4,341.8 L511,342.2 L513.6,342.5 L516.2,342.9 L518.8,343.2 L521.4,343.5 L524,343.8 L526.6,344.2 L529.1,344.5 L531.7,344.8 L534.3,345.1 L536.9,345.4 L539.5,345.7" stroke="#77AC30"/>
<path d="M49.6,383.5 L51.3,383.5 L52.9,383.4 L54.6,383.4 L56.3,383.3 L57.9,383.2 L59.6,383.1 L61.2,383 L62.9,382.9 L64.6,382.8 L66.2,382.7 L67.9,382.7 L69.5,382.6 L71.2,382.5 L72.8,382.4 L74.5,382.3 L76.2,382.2 L77.8,382.1 L79.5,382 L81.1,381.9 L82.8,381.8 L84.5,381.7 L86.1,381.7 L87.8,381.6 L89.4,381.5 L91.1,381.4 L92.8,381.3 L94.4,381.2 L96.1,381.1 L97.7,381 L99.4,380.9 L101,380.8 L102.7,380.7 L104.4,380.6 L106,380.5 L107.7,380.4 L109.3,380.3 L111,380.2 L112.7,380.1 L114.3,380 L116,379.9 L117.6,379.8 L119.3,379.7 L121,379.6 L122.6,379.5 L124.3,379.4 L125.9,379.3 L127.6,379.1 L129.3,379 L130.9,378.9 L132.6,378.8 L134.2,378.7 L135.9,378.6 L137.5,378.4 L139.2,378.3 L140.9,378.2 L142.5,378 L144.2,377.9 L145.8,377.8 L147.5,377.6 L147.8,377.6 L148.1,377.6 L148.4,377.6 L148.6,377.6 L148.9,377.5 L149.2,377.5 L149.5,377.5 L149.8,377.5 L150.1,377.4 L150.3,377.4 L150.6,377.4 L150.9,377.4 L151.2,377.3 L151.5,377.3 L151.8,377.3 L152,377.3 L152.3,377.2 L152.6,377.2 L152.9,377.2 L153.2,377.2 L153.5,377.1 L153.7,377.1 L154,377.1 L154.3,377.1 L154.6,377 L154.9,377 L155.2,377 L155.4,377 L155.7,376.9 L156,376.9 L156.3,376.9 L156.6,376.9 L156.9,376.8 L157.1,376.8 L157.4,376.8 L157.7,376.8 L158,376.7 L158.3,376.7 L158.6,376.7 L158.9,376.6 L159.1,376.6 L159.4,376.6 L159.7,376.6 L160,376.5 L160.3,376.5 L160.6,376.5 L160.8,376.5 L161.1,376.4 L161.4,376.4 L161.7,376.4 L162,376.3 L162.3,376.3 L162.5,376.3 L162.8,376.3 L163.1,376.2 L163.4,376.2 L163.7,376.2 L164,376.1 L164.2,376.1 L164.5,376.1 L164.8,376.1 L165.1,376 L165.4,376 L165.7,376 L165.9,375.9 L166.2,375.9 L166.5,375.9 L166.8,375.9 L167.1,375.8 L167.4,375.8 L167.6,375.8 L167.9,375.7 L168.2,375.7 L168.5,375.7 L168.8,375.7 L169.1,375.6 L169.4,375.6 L169.6,375.6 L169.9,375.5 L170.2,375.5 L170.5,375.5 L170.8,375.4 L171.1,375.4 L171.3,375.4 L171.6,375.3 L171.9,375.3 L172.2,375.3 L172.5,375.2 L172.8,375.2 L173,375.2 L173.3,375.2 L173.6,375.1 L173.9,375.1 L174.2,375.1 L174.5,375 L174.7,375 L175,375 L175.3,374.9 L175.6,374.9 L175.9,374.9 L176.2,374.8 L176.4,374.8 L176.7,374.8 L177,374.7 L177.3,374.7 L177.6,374.7 L177.9,374.6 L178.1,374.6 L178.4,374.5 L178.7,374.5 L179,374.5 L179.3,374.4 L179.6,374.4 L179.9,374.4 L180.1,374.3 L180.4,374.3 L180.7,374.3 L181,374.2 L181.3,374.2 L181.6,374.2 L181.8,374.1 L182.1,374.1 L182.4,374 L182.7,374 L183,374 L183.3,373.9 L183.5,373.9 L183.8,373.9 L184.1,373.8 L184.4,373.8 L184.7,373.7 L185,373.7 L185.2,373.7 L185.5,373.6 L185.8,373.6 L186.1,373.6 L186.4,373.5 L186.7,373.5 L186.9,373.4 L187.2,373.4 L187.5,373.4 L187.8,373.3 L188.1,373.3 L188.4,373.2 L188.6,373.2 L188.9,373.1 L189.2,373.1 L189.5,373.1 L189.8,373 L190.1,373 L190.4,372.9 L190.6,372.9 L190.9,372.9 L191.2,372.8 L191.5,372.8 L191.8,372.7 L192.1,372.7 L192.3,372.6 L192.6,372.6 L192.9,372.6 L193.2,372.5 L193.5,372.5 L193.8,372.4 L194,372.4 L194.3,372.3 L194.6,372.3 L194.9,372.2 L195.2,372.2 L195.5,372.1 L195.7,372.1 L196,372.1 L196.3,372 L196.6,372 L196.9,371.9 L197.2,371.9 L197.4,371.8 L197.7,371.8 L198,371.7 L198.3,371.7 L198.6,371.6 L198.9,371.6 L199.1,371.5 L199.4,371.5 L199.7,371.4 L200,371.4 L200.3,371.3 L200.6,371.3 L200.9,371.2 L201.1,371.2 L201.4,371.1 L201.7,371.1 L202,371 L202.3,371 L202.6,370.9 L202.8,370.9 L203.1,370.8 L203.4,370.8 L203.7,370.7 L204,370.6 L204.3,370.6 L204.5,370.5 L204.8,370.5 L205.1,370.4 L205.4,370.4 L205.7,370.3 L206,370.3 L206.2,370.2 L206.5,370.1 L206.8,370.1 L207.1,370 L207.4,370 L207.7,369.9 L207.9,369.9 L208.2,369.8 L208.5,369.7 L208.8,369.7 L209.1,369.6 L209.4,369.6 L209.6,369.5 L209.9,369.4 L210.2,369.4 L210.5,369.3 L210.8,369.2 L211.1,369.2 L211.4,369.1 L211.6,369.1 L211.9,369 L212.2,368.9 L212.5,368.9 L212.8,368.8 L213.1,368.7 L213.3,368.7 L213.6,368.6 L213.9,368.5 L214.2,368.5 L214.5,368.4 L214.8,368.3 L215,368.3 L215.3,368.2 L215.6,368.1 L215.9,368 L216.2,368 L216.5,367.9 L216.7,367.8 L217,367.8 L217.3,367.7 L217.6,367.6 L217.9,367.5 L218.2,367.5 L218.4,367.4 L218.7,367.3 L219,367.2 L219.3,367.2 L219.6,367.1 L219.9,367 L220.1,366.9 L220.4,366.8 L220.7,366.8 L221,366.7 L222.1,366.4 L223.2,366.1 L224.2,365.7 L225.3,365.4 L226.4,365 L227.5,364.7 L228.6,364.3 L229.6,363.9 L230.7,363.6 L231.8,363.1 L232.9,362.7 L234,362.3 L235,361.9 L236.1,361.4 L237.2,360.9 L238.3,360.4 L239.4,359.9 L240.4,359.4 L241.5,358.8 L242.6,358.3 L243.7,357.7 L244.8,357 L245.8,356.4 L246.9,355.7 L248,355 L249.1,354.3 L250.2,353.5 L251.2,352.8 L252.3,351.9 L253.4,351.1 L254.5,350.1 L255.5,349.2 L256.6,348.2 L257.7,347.1 L258.8,346 L259.9,344.9 L260.9,343.6 L262,342.3 L263.1,341 L264.2,339.5 L265.3,338 L266.3,336.4 L267.4,334.7 L268.5,332.8 L269.6,330.9 L270.7,328.8 L271.7,326.6 L272.8,324.3 L273.9,321.8 L275,319.1 L276.1,316.2 L277.1,313.2 L278.2,310 L279.3,306.5 L280.4,302.9 L281.5,299.1 L282.5,295 L283.6,290.9 L284.7,286.6 L285,285.4 L285.3,284.1 L285.6,282.9 L285.9,281.6 L286.3,280.4 L286.6,279.1 L286.9,277.9 L287.2,276.7 L287.5,275.5 L287.8,274.3 L288.1,273.2 L288.4,272.1 L288.7,271 L289,269.9 L289.4,268.9 L289.7,267.9 L290,267 L290.3,266.1 L290.6,265.2 L290.9,264.5 L291.2,263.7 L291.5,263.1 L291.8,262.5 L292.1,262 L292.5,261.5 L292.8,261.2 L293.1,260.9 L293.4,260.6 L293.7,260.5 L294,260.4 L294.3,260.5 L294.6,260.5 L294.9,260.7 L295.2,261 L295.6,261.3 L295.9,261.7 L296.2,262.2 L296.5,262.7 L296.8,263.3 L297.1,264 L297.4,264.7 L297.7,265.5 L298,266.3 L298.3,267.2 L298.7,268.1 L299,269 L299.3,270 L299.6,271 L299.9,272.1 L300.2,273.1 L300.5,274.2 L300.8,275.3 L301.1,276.5 L301.4,277.6 L301.8,278.8 L302.1,279.9 L302.4,281.1 L302.7,282.2 L303,283.4 L303.3,284.5 L303.6,285.7 L303.9,286.9 L304.2,288 L304.5,289.1 L304.9,290.3 L305.2,291.4 L305.5,292.5 L305.8,293.6 L306.1,294.6 L306.4,295.7 L306.7,296.8 L307,297.8 L307.3,298.8 L307.6,299.8 L308,300.8 L308.3,301.8 L308.6,302.8 L308.9,303.7 L309.2,304.7 L311.8,311.9 L314.4,318.1 L317,323.5 L319.6,328.1 L322.1,332.1 L324.7,335.6 L327.3,338.6 L329.9,341.3 L332.5,343.7 L335.1,345.8 L337.7,347.7 L340.3,349.4 L342.8,351 L345.4,352.4 L348,353.7 L350.6,354.9 L353.2,356 L355.8,357 L358.4,357.9 L361,358.8 L363.5,359.6 L366.1,360.3 L368.7,361 L371.3,361.7 L373.9,362.3 L376.5,362.9 L379.1,363.4 L381.7,363.9 L384.2,364.4 L386.8,364.9 L389.4,365.3 L392,365.7 L394.6,366.1 L397.2,366.5 L399.8,366.9 L402.4,367.2 L404.9,367.5 L407.5,367.8 L410.1,368.1 L412.7,368.4 L415.3,368.7 L417.9,369 L420.5,369.2 L423.1,369.5 L425.6,369.7 L428.2,369.9 L430.8,370.2 L433.4,370.4 L436,370.6 L438.6,370.8 L441.2,371 L443.8,371.1 L446.3,371.3 L448.9,371.5 L451.5,371.7 L454.1,371.8 L456.7,372 L459.3,372.1 L461.9,372.3 L464.5,372.4 L467,372.6 L469.6,372.7 L472.2,372.8 L474.8,373 L477.4,373.1 L480,373.2 L482.6,373.3 L485.2,373.4 L487.7,373.5 L490.3,373.7 L492.9,373.8 L495.5,373.9 L498.1,374 L500.7,374.1 L503.3,374.2 L505.9,374.3 L508.4,374.4 L511,374.4 L513.6,374.5 L516.2,374.6 L518.8,374.7 L521.4,374.8 L524,374.9 L526.6,375 L529.1,375 L531.7,375.1 L534.3,375.2 L536.9,375.3 L539.5,375.3" stroke="#4DBEEE"/>
</g>
<path d="M172.2,13.5 L172.4,15.5 L172.5,17.5 L172.7,19.5 L172.9,21.4 L173.1,23.4 L173.3,25.4 L173.5,27.4 L173.7,29.4 L173.9,31.3 L174.1,33.3 L174.3,35.3 L174.5,37.3 L174.6,39.3 L174.8,41.3 L174.9,43.3 L175.1,45.2 L175.2,47.2 L175.3,49.2 L175.5,51.2 L175.6,53.2 L175.7,55.2 L175.8,57.2 L176,59.2 L176.1,61.1 L176.2,63.1 L176.3,65.1 L176.4,67.1 L176.5,69.1 L176.7,71.1 L176.8,73.1 L176.9,75.1 L177,77.1 L177.1,79 L177.2,81 L177.3,83 L177.4,85 L177.5,87 L177.6,89 L177.8,91 L177.9,93 L178,95 L178.1,96.9 L178.2,98.9 L178.3,100.9 L178.4,102.9 L178.5,104.9 L178.7,106.9 L178.8,108.9 L178.9,110.9 L179,112.8 L179.1,114.8 L179.2,116.8 L179.3,118.8 L179.4,120.8 L179.5,122.8 L179.6,124.8 L179.7,126.8 L179.8,128.8 L180,130.8 L180.1,132.7 L180.2,134.7 L180.3,136.7 L180.4,138.7 L180.6,140.7 L180.7,142.7 L180.8,144.7 L181,146.7 L181.1,148.6 L181.2,150.6 L181.4,152.6 L181.5,154.6 L181.7,156.6 L181.8,158.6 L182,160.6 L182.2,162.5 L182.4,164.5 L182.6,166.5 L182.8,168.5 L183,170.5 L183.2,172.4 L183.5,174.4 L183.8,176.4 L184.1,178.3 L184.5,180.3 L184.9,182.3 L185.2,184.2 L185.6,186.2 L186,188.1 L186.5,190.1 L186.9,192 L187.3,194 L187.8,195.9 L188.3,197.8 L188.8,199.7 L189.4,201.7 L190,203.6 L190.7,205.4 L191.5,207.2 L192.3,209 L193.3,210.8 L194.2,212.6 L195.2,214.3 L196.3,216 L197.3,217.7 L198.4,219.4 L199.5,221.1 L200.6,222.8 L201.7,224.4 L202.9,226.1 L204.2,227.6 L205.5,229.1 L206.8,230.5 L208.2,231.8 L209.8,233 L211.4,234.2 L213.1,235.3 L214.8,236.4 L216.5,237.4 L218.3,238.4 L220,239.4 L221.8,240.3 L223.6,241.1 L225.4,242 L227.2,242.8 L229.1,243.5 L230.9,244.3 L232.8,245 L234.6,245.7 L236.5,246.4 L238.4,247.1 L240.3,247.7 L242.2,248.3 L244.1,249 L246,249.6 L247.9,250.2 L249.8,250.8 L251.7,251.3 L253.6,251.9 L255.5,252.5 L257.4,253 L259.3,253.5 L261.3,254 L263.2,254.4 L265.2,254.9 L267.1,255.3 L269.1,255.7 L271,256.1 L273,256.5 L274.9,256.9 L276.9,257.3 L278.8,257.7 L280.8,258.1 L282.7,258.4 L284.7,258.8 L286.6,259.1 L288.6,259.5 L290.6,259.8 L292.5,260.2 L294.5,260.5" fill="none" stroke="#000" stroke-width="1.4" stroke-dasharray="9.8 4" stroke-dashoffset="13.5"/>
<rect x="172.2" y="15.0" width="122.3" height="241.8" fill="#cccccc" fill-opacity="0.4"/>
<rect x="296.1" y="261.1" width="242.9" height="120.1" fill="#cccccc" fill-opacity="0.4"/>
<line x1="294.7" y1="14.5" x2="294.7" y2="259.7" stroke="#3c3c3c" stroke-width="1.8" stroke-dasharray="4.3 2.38" stroke-dashoffset="5.9"/>
<line x1="294.7" y1="259.9" x2="294.7" y2="383.5" stroke="#000" stroke-width="2.6" stroke-dasharray="3.5 1.7" stroke-dashoffset="1.3"/>
<line x1="287.3" y1="260.7" x2="292.7" y2="258.3" stroke="#000" stroke-width="2.3" stroke-linecap="round"/>
</g>
<g class="tk">
<text transform="translate(49.5,408.2) scale(1.07,1)" text-anchor="middle">0</text>
<text transform="translate(172.0,408.2) scale(1.07,1)" text-anchor="middle">0.5</text>
<text transform="translate(294.5,408.2) scale(1.07,1)" text-anchor="middle">1</text>
<text transform="translate(417.0,408.2) scale(1.07,1)" text-anchor="middle">1.5</text>
<text transform="translate(539.5,408.2) scale(1.07,1)" text-anchor="middle">2</text>
<text transform="translate(42.5,390.2) scale(1.07,1)" text-anchor="end">0</text>
<text transform="translate(42.5,328.7) scale(1.07,1)" text-anchor="end">0.5</text>
<text transform="translate(42.5,267.2) scale(1.07,1)" text-anchor="end">1</text>
<text transform="translate(42.5,205.7) scale(1.07,1)" text-anchor="end">1.5</text>
<text transform="translate(42.5,144.2) scale(1.07,1)" text-anchor="end">2</text>
<text transform="translate(42.5,82.7) scale(1.07,1)" text-anchor="end">2.5</text>
<text transform="translate(42.5,21.2) scale(1.07,1)" text-anchor="end">3</text>
</g>
<g>
<rect x="445.4" y="24.3" width="85.0" height="127.0" fill="#fff" stroke="#555" stroke-width="0.9"/>
<line x1="448.1" y1="35.8" x2="478.5" y2="35.8" stroke="#0072BD" stroke-width="2.3"/>
<text transform="translate(481,42.2) scale(1,1)" class="lg">Q=0.1</text>
<line x1="448.1" y1="56.6" x2="478.5" y2="56.6" stroke="#D95319" stroke-width="2.3"/>
<text transform="translate(481,63.0) scale(1,1)" class="lg">Q=0.3</text>
<line x1="448.1" y1="77.4" x2="478.5" y2="77.4" stroke="#EDB120" stroke-width="2.3"/>
<text transform="translate(481,83.8) scale(1,1)" class="lg">Q=0.5</text>
<line x1="448.1" y1="98.2" x2="478.5" y2="98.2" stroke="#7E2F8E" stroke-width="2.3"/>
<text transform="translate(481,104.6) scale(1,1)" class="lg">Q=1</text>
<line x1="448.1" y1="119.0" x2="478.5" y2="119.0" stroke="#77AC30" stroke-width="2.3"/>
<text transform="translate(481,125.4) scale(1,1)" class="lg">Q=2</text>
<line x1="448.1" y1="139.8" x2="478.5" y2="139.8" stroke="#4DBEEE" stroke-width="2.3"/>
<text transform="translate(481,146.2) scale(1,1)" class="lg">Q=10</text>
</g>
<g class="b" text-anchor="middle">
<text x="234.7" y="51">ZVS work</text><text x="234.7" y="73">area 2</text>
<text x="151.5" y="316.6">ZCS work</text><text x="151.8" y="338.6">area 3</text>
<text x="432" y="316.6">ZVS work</text><text x="431.5" y="338.6">area 1</text>
</g>
<g class="n" text-anchor="middle">
<text x="365.6" y="95.5">Pure resistance</text><text x="365.6" y="118.5">curve</text>
</g>
<line x1="323.0" y1="113.6" x2="189.8" y2="169.5" stroke="#000" stroke-width="1.6"/>
<polygon points="183.0,172.4 191.0,172.4 188.6,166.7" fill="#000"/>
<text class="al" x="221.3" y="423.6">Normalized frequency <tspan font-style="italic" dx="0">f</tspan><tspan font-size="6.4px" font-style="italic" dy="0.5" dx="-0.6" fill="#222">N</tspan></text>
<text class="al" transform="translate(15.8,262.8) rotate(-90) scale(1.035,1)">Voltage gain <tspan font-style="italic">M</tspan></text>
</svg>
</body></html>
